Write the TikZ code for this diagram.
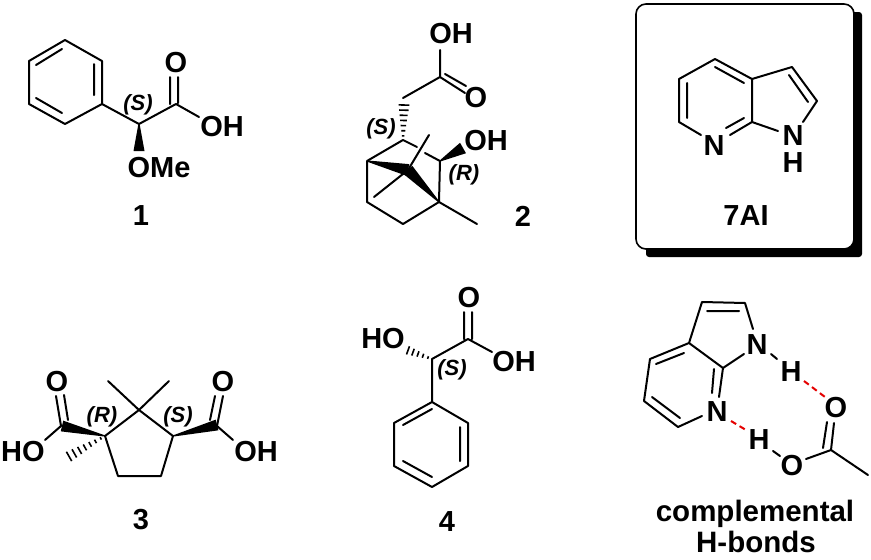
\documentclass[tikz,border=0pt]{standalone}
\usepackage{fontspec}
\setmainfont{Liberation Sans}
\usetikzlibrary{calc}
\newcommand{\wedgebond}[3]{\fill ($(#1)!0.6pt!90:(#2)$) -- ($(#1)!0.6pt!-90:(#2)$) -- ($(#2)!#3!90:(#1)$) -- ($(#2)!#3!-90:(#1)$) -- cycle;}
\newcommand{\hashbond}[4]{\foreach \t in {1,...,#4}{\pgfmathsetmacro{\f}{(\t-0.2)/#4}\pgfmathsetmacro{\w}{0.8+(#3-0.8)*\f}\draw[hashline] ($(#1)!\f!(#2)!\w pt!90:(#2)$) -- ($(#1)!\f!(#2)!\w pt!-90:(#2)$);}}
\tikzset{
  bond/.style={line width=2pt,line cap=round,line join=round},
  hashline/.style={line width=1.6pt},
  hbond/.style={line width=2pt,red!90!black,dash pattern=on 6pt off 4pt},
  atom/.style={font=\fontsize{29}{29}\selectfont\bfseries,inner sep=0pt},
  chiral/.style={font=\fontsize{22}{22}\selectfont\bfseries\itshape,inner sep=0pt},
  cmpd/.style={font=\fontsize{29}{29}\selectfont\bfseries,inner sep=0pt},
  caption/.style={font=\fontsize{29.5}{29.5}\selectfont\bfseries,inner sep=0pt,anchor=base}
}
\begin{document}
\begin{tikzpicture}[x=1pt,y=-1pt]
\useasboundingbox (0,0) rectangle (871,560);
\fill[white] (0,0) rectangle (871,560);

% ---------- compound 1
\foreach \n/\x/\y in {a1/65/40,a2/102/61,a3/102/104,a4/65/124,a5/29/104,a6/29/61,
  a7/94/64,a8/94/95,a9/36/65,a10/62/49,a11/36/98,a12/62/113,
  ac/139/124,ak/176/104,ako1/170/77,ako2/170/104,ako3/178/77,ako4/178/103,aoh/199/117,ame/139/151}
  {\coordinate (\n) at (\x,\y);}
\draw[bond] (a1)--(a2)--(a3)--(a4)--(a5)--(a6)--cycle (a7)--(a8) (a9)--(a10) (a11)--(a12)
  (a3)--(ac)--(ak)--(aoh) (ako1)--(ako2) (ako3)--(ako4);
\wedgebond{ac}{ame}{5.5pt}
\node[atom] (a-o) at (176,63) {O};
\node[atom] (a-oh) at (222,127) {OH};
\node[atom] (a-ome) at (159,168) {OMe};
\node[chiral] (a-s) at (138,105) {(S)};
\node[cmpd] (a-l) at (141,216) {1};

% ---------- compound 2
\foreach \n/\x/\y in {b1/440/50,b2/440/77,b3/465/93,b4/445/74,b5/466/86,b6/403/98,b7/404/104,
  b8/403/140,b9/367/161,b10/417/147,b11/425/153,b12/440/161,b13/463/148,b14/439/202,b15/403/224,
  b16/367/202,b17/477/224,b18/408/170,b19/429/135,b20/374/197}
  {\coordinate (\n) at (\x,\y);}
\draw[bond] (b1)--(b2)--(b3) (b4)--(b5) (b2)--(b6) (b9)--(b8)--(b10) (b11)--(b12)--(b14)--(b15)--(b16)--(b9)
  (b14)--(b17) (b18)--(b19) (b18)--(b20);
\wedgebond{b12}{b13}{6pt}
\wedgebond{b9}{b18}{6pt}
\wedgebond{b14}{b18}{6pt}
\hashbond{b8}{b7}{5.5}{7}
\node[atom] (b-oh1) at (451,34) {OH};
\node[atom] (b-o) at (476,98) {O};
\node[atom] (b-oh2) at (486,141) {OH};
\node[chiral] (b-s) at (381,129) {(S)};
\node[chiral] (b-r) at (464,175) {(R)};
\node[cmpd] (b-l) at (523,216) {2};

% ---------- 7AI box
\fill[black,rounded corners=3pt] (646,12) rectangle (862,257);
\draw[line width=1.6pt,fill=white,rounded corners=10pt] (636,4) rectangle (854,249);
\foreach \n/\x/\y in {c1/715/59,c2/679/79,c3/679/122,c4/701/135,c5/752/122,c6/752/79,c7/792/67,c8/817/101,
  c9/803/122,c10/778/131,c11/730/135,c12/744/118,c13/726/128,c14/687/83,c15/687/118,c16/715/67,c17/744/83,c18/789/75,c19/808/102}
  {\coordinate (\n) at (\x,\y);}
\draw[bond] (c4)--(c3)--(c2)--(c1)--(c6)--(c5)--(c11) (c6)--(c7)--(c8)--(c9) (c5)--(c10)
  (c12)--(c13) (c14)--(c15) (c16)--(c17) (c18)--(c19);
\node[atom] (c-n1) at (714,146) {N};
\node[atom] (c-n2) at (793,136) {N};
\node[atom] (c-h) at (793,163) {H};
\node[cmpd] (c-l) at (746,216) {7AI};

% ---------- compound 3
\foreach \n/\x/\y in {d1/105/436,d2/139/410,d3/173/436,d4/161/476,d5/118/476,d6/108/381,d7/169/381,
  d8/62/426,d9/56/396,d10/61/426,d11/64/395,d12/68/420,d13/45/440,d14/213/423,d15/215/396,d16/210/420,
  d17/223/396,d18/217/426,d19/233/440,d20/68/457,d21/217/425}
  {\coordinate (\n) at (\x,\y);}
\draw[bond] (d1)--(d2)--(d3)--(d4)--(d5)--cycle (d2)--(d6) (d2)--(d7) (d9)--(d10)--(d13) (d11)--(d12)
  (d15)--(d16) (d17)--(d18)--(d19);
\wedgebond{d1}{d8}{5.5pt}
\wedgebond{d3}{d21}{5.5pt}
\hashbond{d1}{d20}{5.5}{7}
\node[atom] (d-o1) at (57,382) {O};
\node[atom] (d-o2) at (223,382) {O};
\node[atom] (d-ho) at (23,452) {HO};
\node[atom] (d-oh) at (256,452) {OH};
\node[chiral] (d-r) at (102,417) {(R)};
\node[chiral] (d-s) at (178,417) {(S)};
\node[cmpd] (d-l) at (141,520) {3};

% ---------- compound 4
\foreach \n/\x/\y in {e1/464/312,e2/464/339,e3/472/312,e4/472/339,e5/468/339,e6/492/352,e7/432/359,e8/407/350,
  e9/432/402,e10/468/423,e11/468/466,e12/432/487,e13/394/466,e14/394/423,
  e15/403/425,e16/432/409,e17/460/427,e18/460/461,e19/403/461,e20/432/477}
  {\coordinate (\n) at (\x,\y);}
\draw[bond] (e1)--(e2) (e3)--(e4) (e6)--(e5)--(e7)--(e9)--(e10)--(e11)--(e12)--(e13)--(e14)--(e9)
  (e15)--(e16) (e17)--(e18) (e19)--(e20);
\hashbond{e7}{e8}{4.5}{5}
\node[atom] (e-o) at (469,298) {O};
\node[atom] (e-oh) at (514,362) {OH};
\node[atom] (e-ho) at (383,339) {HO};
\node[chiral] (e-s) at (452,370) {(S)};
\node[cmpd] (e-l) at (447,522) {4};

% ---------- H-bonded pair
\foreach \n/\x/\y in {f1/702/302,f2/745/303,f3/753/329,f4/689/343,f5/723/368,f6/744/354,f7/719/397,f8/714/369,f9/712/393,
  f10/678/427,f11/702/416,f12/644/401,f13/650/359,f14/656/364,f15/684/353,f16/652/397,f17/680/418,f18/707/311,f19/739/311,
  f20/771/354,f21/777/359,f22/804/381,f23/825/397,f24/827/422,f25/823/448,f26/834/423,f27/831/450,f28/868/475,f29/806/459,
  f30/773/451,f31/780/456,f32/731/421,f33/746/430}
  {\coordinate (\n) at (\x,\y);}
\draw[bond] (f3)--(f2)--(f1)--(f4)--(f5)--(f6) (f5)--(f7) (f8)--(f9) (f11)--(f10)--(f12)--(f13)--(f4)
  (f14)--(f15) (f16)--(f17) (f18)--(f19) (f20)--(f21) (f24)--(f25) (f26)--(f27)--(f28) (f27)--(f29) (f30)--(f31);
\draw[hbond] (f22)--(f23);
\draw[hbond] (f32)--(f33);
\node[atom] (f-n1) at (757,345) {N};
\node[atom] (f-n2) at (717,412) {N};
\node[atom] (f-h1) at (791,372) {H};
\node[atom] (f-h2) at (759,440) {H};
\node[atom] (f-o1) at (836,408) {O};
\node[atom] (f-o2) at (792,466) {O};
\node[caption] (f-c1) at (755,521) {complemental};
\node[caption] (f-c2) at (756,552) {H-bonds};
\end{tikzpicture}
\end{document}
